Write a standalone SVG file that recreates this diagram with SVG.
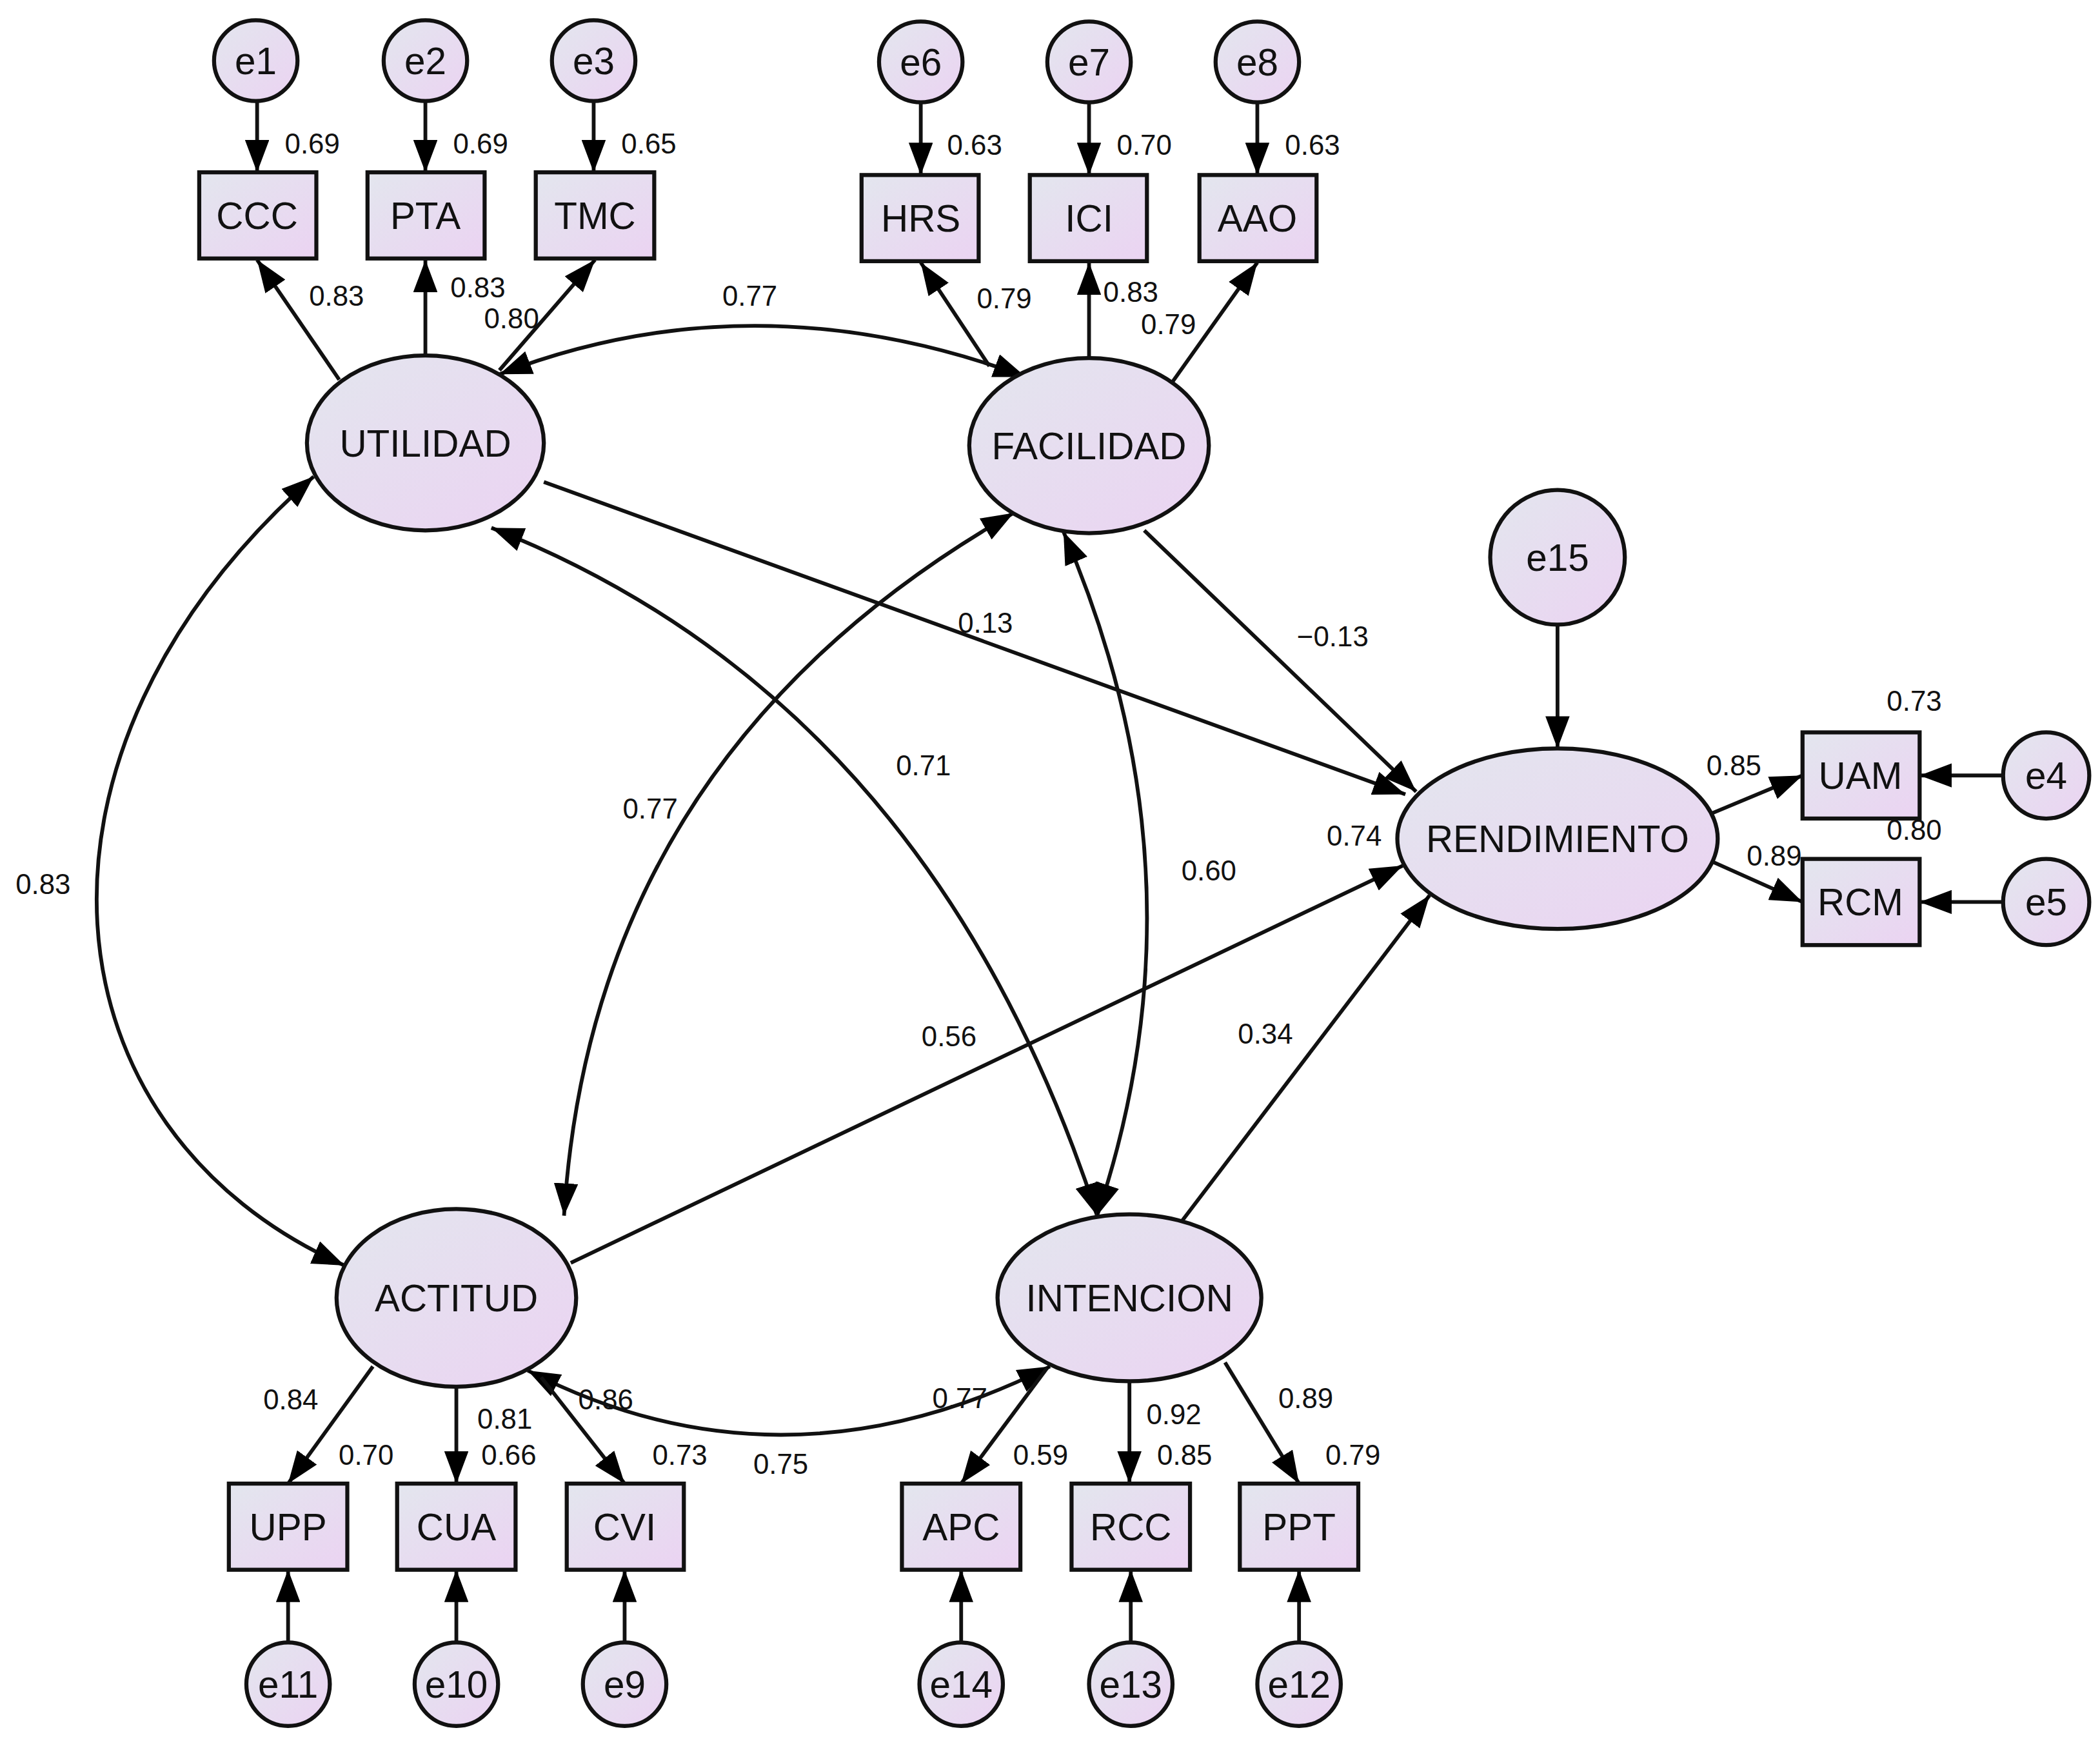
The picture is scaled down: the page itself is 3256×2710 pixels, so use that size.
<svg xmlns="http://www.w3.org/2000/svg" width="3256" height="2710" viewBox="0 0 3256 2710">
<defs>
<linearGradient id="g" x1="0" y1="0" x2="1" y2="1"><stop offset="0" stop-color="#e3e6ee"/><stop offset="1" stop-color="#ebd3f2"/></linearGradient>
<marker id="a" viewBox="0 0 24 18" refX="24" refY="9" markerWidth="24" markerHeight="18" markerUnits="userSpaceOnUse" orient="auto-start-reverse"><path d="M0,0L24,9L0,18z" fill="#000"/></marker>
<style>
.n ellipse,.n rect{fill:url(#g);stroke:#111;stroke-width:3}
.n text{font-family:"Liberation Sans",Arial,sans-serif;font-size:28px;text-anchor:middle;fill:#111}
.c path,.c line{fill:none;stroke:#111;stroke-width:2.8;marker-end:url(#a)}
.c .b{marker-start:url(#a)}
.l text{font-family:"Liberation Sans",Arial,sans-serif;font-size:21px;fill:#111;text-anchor:middle}
</style>
</defs>
<rect width="3256" height="2710" fill="#fff"/>
<g transform="scale(2.0872)">
<g class="c" id="connectors">
<line x1="191" y1="76" x2="191" y2="128"/><line x1="316" y1="76" x2="316" y2="128"/><line x1="441" y1="76" x2="441" y2="128"/>
<line x1="684" y1="77" x2="684" y2="130"/><line x1="809" y1="77" x2="809" y2="130"/><line x1="934" y1="77" x2="934" y2="130"/>
<line x1="252" y1="282" x2="191" y2="193"/><line x1="316" y1="264" x2="316" y2="193"/><line x1="371" y1="275" x2="442" y2="193"/>
<line x1="735" y1="272" x2="684" y2="195"/><line x1="809" y1="266" x2="809" y2="195"/><line x1="870" y1="285" x2="934" y2="195"/>
<path class="b" d="M371,278 Q560,205 762,280"/>
<line x1="404" y1="358" x2="1044" y2="590"/>
<line x1="850" y1="394" x2="1052" y2="588"/>
<line x1="424" y1="938" x2="1042" y2="643"/>
<line x1="878" y1="907" x2="1062" y2="665"/>
<line x1="1157" y1="464" x2="1157" y2="556"/>
<line x1="1272" y1="604" x2="1339" y2="576"/><line x1="1272" y1="640" x2="1339" y2="670"/>
<line x1="1488" y1="576" x2="1426" y2="576"/><line x1="1488" y1="670" x2="1426" y2="670"/>
<path class="b" d="M233,354 C0,560 30,840 256,940"/>
<path class="b" d="M365,392 Q690,520 815,903"/>
<path class="b" d="M753,381 Q440,560 419,903"/>
<path class="b" d="M790,395 Q900,650 815,903"/>
<path class="b" d="M392,1018 Q580,1115 780,1015"/>
<line x1="277" y1="1015" x2="214" y2="1102"/><line x1="339" y1="1031" x2="339" y2="1102"/><line x1="402" y1="1023" x2="464" y2="1102"/>
<line x1="778" y1="1016" x2="714" y2="1102"/><line x1="839" y1="1026" x2="839" y2="1102"/><line x1="910" y1="1012" x2="965" y2="1102"/>
<line x1="214" y1="1220" x2="214" y2="1166"/><line x1="339" y1="1220" x2="339" y2="1166"/><line x1="464" y1="1220" x2="464" y2="1166"/>
<line x1="714" y1="1220" x2="714" y2="1166"/><line x1="840" y1="1220" x2="840" y2="1166"/><line x1="965" y1="1220" x2="965" y2="1166"/>
</g>
<g id="e1" class="n"><ellipse cx="190" cy="45" rx="31" ry="30"/><text x="190" y="55">e1</text></g>
<g id="e2" class="n"><ellipse cx="316" cy="45" rx="31" ry="30"/><text x="316" y="55">e2</text></g>
<g id="e3" class="n"><ellipse cx="441" cy="45" rx="31" ry="30"/><text x="441" y="55">e3</text></g>
<g id="e6" class="n"><ellipse cx="684" cy="46" rx="31" ry="30"/><text x="684" y="56">e6</text></g>
<g id="e7" class="n"><ellipse cx="809" cy="46" rx="31" ry="30"/><text x="809" y="56">e7</text></g>
<g id="e8" class="n"><ellipse cx="934" cy="46" rx="31" ry="30"/><text x="934" y="56">e8</text></g>
<g id="CCC" class="n"><rect x="148" y="128" width="87" height="64"/><text x="191" y="170">CCC</text></g>
<g id="PTA" class="n"><rect x="273" y="128" width="87" height="64"/><text x="316" y="170">PTA</text></g>
<g id="TMC" class="n"><rect x="398" y="128" width="88" height="64"/><text x="442" y="170">TMC</text></g>
<g id="HRS" class="n"><rect x="640" y="130" width="87" height="64"/><text x="684" y="172">HRS</text></g>
<g id="ICI" class="n"><rect x="765" y="130" width="87" height="64"/><text x="809" y="172">ICI</text></g>
<g id="AAO" class="n"><rect x="891" y="130" width="87" height="64"/><text x="934" y="172">AAO</text></g>
<g id="UTILIDAD" class="n"><ellipse cx="316" cy="329" rx="88" ry="65"/><text x="316" y="339">UTILIDAD</text></g>
<g id="FACILIDAD" class="n"><ellipse cx="809" cy="331" rx="89" ry="65"/><text x="809" y="341">FACILIDAD</text></g>
<g id="e15" class="n"><ellipse cx="1157" cy="414" rx="50" ry="50"/><text x="1157" y="424">e15</text></g>
<g id="RENDIMIENTO" class="n"><ellipse cx="1157" cy="623" rx="119" ry="67"/><text x="1157" y="633">RENDIMIENTO</text></g>
<g id="UAM" class="n"><rect x="1339" y="544" width="87" height="64"/><text x="1382" y="586">UAM</text></g>
<g id="RCM" class="n"><rect x="1339" y="638" width="87" height="64"/><text x="1382" y="680">RCM</text></g>
<g id="e4" class="n"><ellipse cx="1520" cy="576" rx="32" ry="32"/><text x="1520" y="586">e4</text></g>
<g id="e5" class="n"><ellipse cx="1520" cy="670" rx="32" ry="32"/><text x="1520" y="680">e5</text></g>
<g id="ACTITUD" class="n"><ellipse cx="339" cy="964" rx="89" ry="66"/><text x="339" y="974">ACTITUD</text></g>
<g id="INTENCION" class="n"><ellipse cx="839" cy="964" rx="98" ry="62"/><text x="839" y="974">INTENCION</text></g>
<g id="UPP" class="n"><rect x="170" y="1102" width="88" height="64"/><text x="214" y="1144">UPP</text></g>
<g id="CUA" class="n"><rect x="295" y="1102" width="88" height="64"/><text x="339" y="1144">CUA</text></g>
<g id="CVI" class="n"><rect x="421" y="1102" width="87" height="64"/><text x="464" y="1144">CVI</text></g>
<g id="APC" class="n"><rect x="670" y="1102" width="88" height="64"/><text x="714" y="1144">APC</text></g>
<g id="RCC" class="n"><rect x="796" y="1102" width="88" height="64"/><text x="840" y="1144">RCC</text></g>
<g id="PPT" class="n"><rect x="921" y="1102" width="88" height="64"/><text x="965" y="1144">PPT</text></g>
<g id="e11" class="n"><ellipse cx="214" cy="1251" rx="31" ry="31"/><text x="214" y="1261">e11</text></g>
<g id="e10" class="n"><ellipse cx="339" cy="1251" rx="31" ry="31"/><text x="339" y="1261">e10</text></g>
<g id="e9" class="n"><ellipse cx="464" cy="1251" rx="31" ry="31"/><text x="464" y="1261">e9</text></g>
<g id="e14" class="n"><ellipse cx="714" cy="1251" rx="31" ry="31"/><text x="714" y="1261">e14</text></g>
<g id="e13" class="n"><ellipse cx="840" cy="1251" rx="31" ry="31"/><text x="840" y="1261">e13</text></g>
<g id="e12" class="n"><ellipse cx="965" cy="1251" rx="31" ry="31"/><text x="965" y="1261">e12</text></g>
<g class="l" id="labels">
<text x="232" y="114">0.69</text><text x="357" y="114">0.69</text><text x="482" y="114">0.65</text>
<text x="724" y="115">0.63</text><text x="850" y="115">0.70</text><text x="975" y="115">0.63</text>
<text x="250" y="227">0.83</text><text x="355" y="221">0.83</text><text x="380" y="244">0.80</text>
<text x="746" y="229">0.79</text><text x="840" y="224">0.83</text><text x="868" y="248">0.79</text>
<text x="557" y="227">0.77</text><text x="732" y="470">0.13</text><text x="990" y="480">&#8722;0.13</text>
<text x="32" y="664">0.83</text><text x="686" y="576">0.71</text><text x="483" y="608">0.77</text><text x="898" y="654">0.60</text>
<text x="1006" y="628">0.74</text><text x="705" y="777">0.56</text><text x="940" y="775">0.34</text>
<text x="1288" y="576">0.85</text><text x="1318" y="643">0.89</text><text x="1422" y="528">0.73</text><text x="1422" y="624">0.80</text>
<text x="216" y="1047">0.84</text><text x="375" y="1061">0.81</text><text x="450" y="1047">0.86</text>
<text x="272" y="1088">0.70</text><text x="378" y="1088">0.66</text><text x="505" y="1088">0.73</text>
<text x="580" y="1095">0.75</text>
<text x="713" y="1046">0.77</text><text x="872" y="1058">0.92</text><text x="970" y="1046">0.89</text>
<text x="773" y="1088">0.59</text><text x="880" y="1088">0.85</text><text x="1005" y="1088">0.79</text>
</g>
</g>
</svg>
